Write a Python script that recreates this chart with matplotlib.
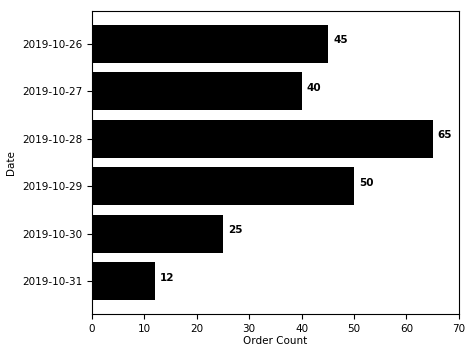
import matplotlib.pyplot as plt

# Order counts per day
dates = ['2019-10-26', '2019-10-27', '2019-10-28', '2019-10-29', '2019-10-30', '2019-10-31']
counts = [45, 40, 65, 50, 25, 12]

plt.rcParams['font.size'] = 7.5

fig, ax = plt.subplots(figsize=(4.74, 3.52), dpi=100)
fig.subplots_adjust(left=0.194, right=0.968, top=0.969, bottom=0.108)

ax.barh(dates, counts, color='black')
ax.invert_yaxis()

# Value labels next to each bar
for i, v in enumerate(counts):
    ax.text(v + 1, i - 0.07, str(v), va='center', fontweight='bold')

ax.set_xlim(0, 70)
ax.set_xlabel('Order Count', labelpad=2)
ax.set_ylabel('Date')

plt.savefig('out.png')
